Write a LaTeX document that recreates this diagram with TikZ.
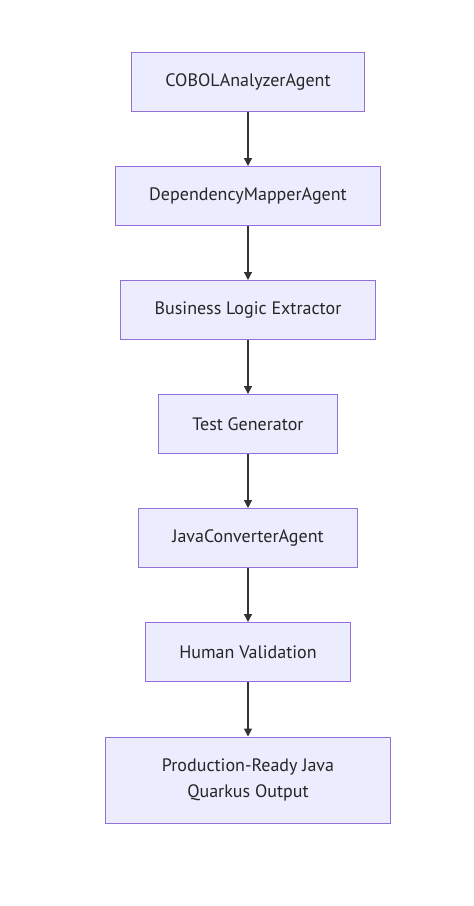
\documentclass[tikz,border=0pt]{standalone}
\usepackage{fontspec}
\setmainfont{PT Sans}
\usetikzlibrary{arrows.meta}
\definecolor{boxfill}{HTML}{ECECFF}
\definecolor{boxline}{HTML}{9370DB}
\definecolor{linkcol}{HTML}{333333}
\tikzset{
    stage/.style={draw=boxline, fill=boxfill, line width=1pt, minimum height=59pt,
        inner xsep=34pt, align=center, font=\fontsize{18}{26}\selectfont, text=black!85},
    link/.style={draw=linkcol, line width=1.2pt, -{Triangle[length=8pt,width=8pt]}}
}
\begin{document}
\begin{tikzpicture}[x=1pt,y=-1pt]
            \useasboundingbox (0,0) rectangle (474,906);
            \node[stage] (analyzer) at (248,82) {COBOLAnalyzerAgent};
            \node[stage] (mapper) at (248,196) {DependencyMapperAgent};
            \node[stage] (logic) at (248,310) {Business Logic Extractor};
            \node[stage] (tests) at (248,424) {Test Generator};
            \node[stage] (converter) at (248,538) {JavaConverterAgent};
            \node[stage] (human) at (248,652) {Human Validation};
            \node[stage, minimum height=86pt, minimum width=285pt] (output) at (248,780) {Production-Ready Java\\Quarkus Output};
            \draw[link] (analyzer) -- (mapper);
            \draw[link] (mapper) -- (logic);
            \draw[link] (logic) -- (tests);
            \draw[link] (tests) -- (converter);
            \draw[link] (converter) -- (human);
            \draw[link] (human) -- (output);
        \end{tikzpicture}
\end{document}
